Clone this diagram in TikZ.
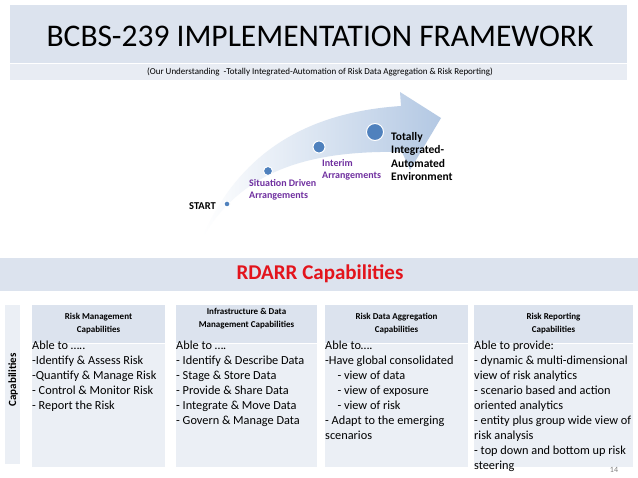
\documentclass[tikz,border=0pt]{standalone}
\usepackage{fontspec}
\setmainfont{Carlito}
\begin{document}
\begin{tikzpicture}[x=1pt,y=-1pt,
  band/.style={fill=bandc,draw=none},
  hdr/.style={fill=hdrc,draw=none},
  body/.style={fill=bodyc,draw=none},
  htext/.style={font=\fontsize{9}{13}\selectfont\bfseries,align=center},
  btext/.style={font=\fontsize{12.3}{15}\selectfont,align=left,anchor=north west,inner sep=0pt},
  dot/.style={circle,fill=dotc,draw=white,line width=1pt,inner sep=0pt},
  stage/.style={font=\fontsize{10}{12}\selectfont\bfseries,text=purp,align=left,anchor=north west,inner sep=0pt}]
\definecolor{bandc}{HTML}{DCE3EE}
\definecolor{band2}{HTML}{E8ECF3}
\definecolor{hdrc}{HTML}{DCE3EE}
\definecolor{bodyc}{HTML}{EBEFF5}
\definecolor{dotc}{HTML}{4F81BD}
\definecolor{arr}{HTML}{B3C8E3}
\definecolor{purp}{HTML}{7030A0}
\definecolor{rdred}{HTML}{E3141C}
\useasboundingbox (0,0) rectangle (638,478);
\fill[white] (0,0) rectangle (638,478);
% title bands
\fill[band] (10,5) rectangle (627,63);
\fill[band2] (10,64) rectangle (627,80);
\node (title) at (320,36) {\fontsize{31.5}{36}\selectfont BCBS-239 IMPLEMENTATION FRAMEWORK};
\node (sub) at (320,72) {\fontsize{9}{10}\selectfont (Our Understanding\ \ -Totally Integrated-Automation of Risk Data Aggregation \& Risk Reporting)};
% arrow
\shade[left color=white,right color=arr,draw=none]
  (202,238) .. controls (240,150) and (310,112) .. (401,106)
  -- (400,92) -- (441,118) -- (410,170) -- (402,152)
  .. controls (300,150) and (240,175) .. (202,238) -- cycle;
\node[dot,minimum size=6pt] (d0) at (227,204) {};
\node[dot,minimum size=9pt] (d1) at (268,171) {};
\node[dot,minimum size=12pt] (d2) at (319,147) {};
\node[dot,minimum size=17pt] (d3) at (375,132) {};
\node[font=\fontsize{10.5}{12}\selectfont\bfseries,anchor=east,inner sep=0pt] (start) at (216,206) {START};
\node[stage] (s1) at (249,179) {Situation Driven\\Arrangements};
\node[stage] (s2) at (322,159) {Interim\\Arrangements};
\node[font=\fontsize{11.5}{13.5}\selectfont\bfseries,align=left,anchor=north west,inner sep=0pt] (s3) at (391,132) {Totally\\Integrated-\\Automated\\Environment};
% RDARR band
\fill[band] (0,258) rectangle (638,291);
\node[text=rdred] (rd) at (320,274) {\fontsize{21}{24}\selectfont\bfseries RDARR Capabilities};
% capabilities strip
\fill[bodyc] (5,305) rectangle (20,464);
\node[rotate=90,font=\fontsize{11}{12}\selectfont\bfseries] (cap) at (13,380) {Capabilities};
% columns
\foreach \xa/\xb in {32/165,176/317,325/468,474/633}{
  \fill[hdr] (\xa,305) rectangle (\xb,343);
  \fill[body] (\xa,344) rectangle (\xb,467);
}
\node[htext] (h1) at (98.5,324) {Risk Management\\Capabilities};
\node[htext] (h2) at (246.5,319) {Infrastructure \& Data\\Management Capabilities};
\node[htext] (h3) at (396.5,324) {Risk Data Aggregation\\Capabilities};
\node[htext] (h4) at (553.5,324) {Risk Reporting\\Capabilities};
\node[btext] (b1) at (32,341) {Able to …..\\-Identify \& Assess Risk\\-Quantify \& Manage Risk\\- Control \& Monitor Risk\\- Report the Risk};
\node[btext] (b2) at (176,341) {Able to ….\\- Identify \& Describe Data\\- Stage \& Store Data\\- Provide \& Share Data\\- Integrate \& Move Data\\- Govern \& Manage Data};
\node[btext] (b3) at (325,341) {Able to….\\-Have global consolidated\\\hspace*{1em}- view of data\\\hspace*{1em}- view of exposure\\\hspace*{1em}- view of risk\\- Adapt to the emerging\\scenarios};
\node[btext] (b4) at (474,341) {Able to provide:\\- dynamic \& multi-dimensional\\view of risk analytics\\- scenario based and action\\oriented analytics\\- entity plus group wide view of\\risk analysis\\- top down and bottom up risk\\steering};
\node[text=gray,font=\fontsize{8}{10}\selectfont] (pg) at (614,470) {14};
\end{tikzpicture}
\end{document}
